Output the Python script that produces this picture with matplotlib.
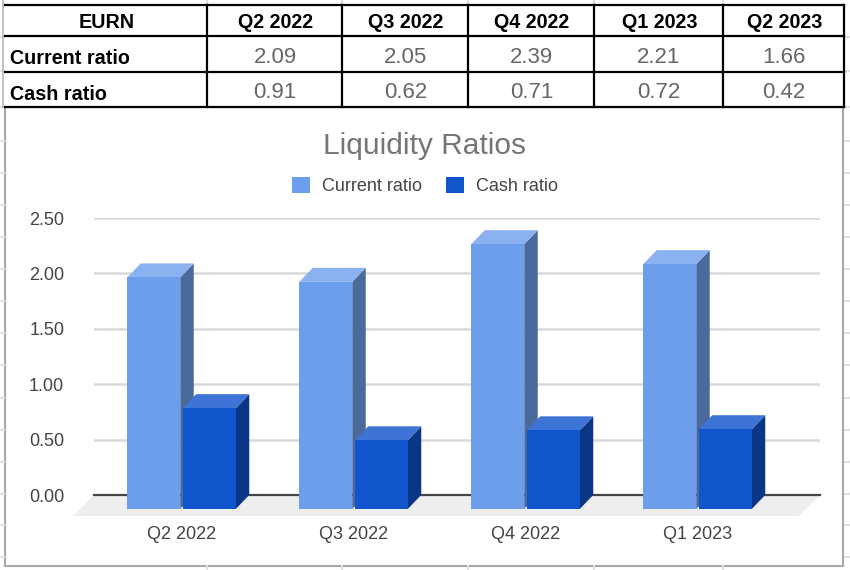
import matplotlib
matplotlib.use("Agg")
from matplotlib import pyplot as plt
from matplotlib.patches import Polygon, Patch, Rectangle

plt.rcParams['font.family'] = ['Liberation Sans', 'DejaVu Sans']

# table data
table_columns = ["EURN", "Q2 2022", "Q3 2022", "Q4 2022", "Q1 2023", "Q2 2023"]
row_names = ["Current ratio", "Cash ratio"]
current_row = ["2.09", "2.05", "2.39", "2.21", "1.66"]
cash_row = ["0.91", "0.62", "0.71", "0.72", "0.42"]

# chart data
quarters = ["Q2 2022", "Q3 2022", "Q4 2022", "Q1 2023"]
current_ratio = [2.09, 2.05, 2.39, 2.21]
cash_ratio = [0.91, 0.62, 0.71, 0.72]
y_ticks = [0.0, 0.5, 1.0, 1.5, 2.0, 2.5]

W, H = 850, 570
fig = plt.figure(figsize=(W / 100, H / 100), dpi=100)

# page layer in pixels, for the sheet grid, the table and the chart frame
page = fig.add_axes([0, 0, 1, 1])
page.set_xlim(0, W)
page.set_ylim(H, 0)
page.axis("off")

col_x = [5, 207, 342, 468, 594, 723, 844]
row_y = [5, 36, 71.5, 106.5]
grid_c = "#e0e0e0"
for x in col_x[1:-1]:
    page.plot([x, x], [0, 5], color=grid_c, lw=1.5)
    page.plot([x, x], [566, H], color=grid_c, lw=1.5)
for y in [37, 71, 107, 141, 173, 205, 237, 269, 301, 333, 365, 398, 430, 462, 494, 525, 557]:
    page.plot([0, 4], [y, y], color=grid_c, lw=1.5)
    page.plot([845, W], [y, y], color=grid_c, lw=1.5)
page.plot([3.5, 3.5], [0, 107], color="#c4c4c4", lw=1.5)
page.add_patch(Rectangle((5, 107), 838, 459, fc="white", ec="#a8a8a8", lw=1.5))

for y in row_y:
    page.plot([col_x[0], col_x[-1]], [y, y], color="black", lw=1.6, solid_capstyle="projecting")
for x in col_x[1:]:
    page.plot([x, x], [row_y[0], row_y[-1]], color="black", lw=1.6)

for i, name in enumerate(table_columns):
    page.text((col_x[i] + col_x[i + 1]) / 2 + 1, 23, name, ha="center", va="center",
              fontsize=14.2, fontweight="bold", color="black")
for j, (name, row) in enumerate(zip(row_names, [current_row, cash_row])):
    yc = [57.5, 92.5][j]
    page.text(10, yc + 0.5 + j, name, ha="left", va="center", fontsize=14.2, fontweight="bold", color="black")
    for i, val in enumerate(row):
        page.text((col_x[i + 1] + col_x[i + 2]) / 2 + 0.5, yc, val, ha="center", va="center",
                  fontsize=16, color="#666666")

# chart axes: the back plane of the 3D box
left, right, top, base = 94, 820, 218, 495
ax = fig.add_axes([left / W, 1 - base / H, (right - left) / W, (base - top) / H])
ax.patch.set_alpha(0)
group_px = 172.0
first_px = 181.5
ax.set_xlim((left - first_px) / group_px, (right - first_px) / group_px)
ax.set_ylim(0, 2.5)
for s in ax.spines.values():
    s.set_visible(False)

px_y = 2.5 / (base - top)
px_x = 1 / group_px
depth_x = 13.5 * px_x
depth_y = 14 * px_y
bar_w = 53 * px_x
gap = 2.5 * px_x

ax.set_yticks(y_ticks, [f"{v:.2f}" for v in y_ticks])
ax.set_xticks(range(len(quarters)), quarters)
ax.tick_params(axis="both", length=0, labelsize=13, labelcolor="#444444")
ax.tick_params(axis="x", pad=22.5)
ax.tick_params(axis="y", pad=21.5)
ax.grid(axis="y", color="#d9d9d9", lw=1.8, zorder=0)
ax.set_axisbelow(True)

xmin, xmax = ax.get_xlim()
floor_x = 21 * px_x
floor_y = 21 * px_y
ax.add_patch(Polygon([(xmin, 0), (xmax, 0), (xmax - floor_x, -floor_y), (xmin - floor_x, -floor_y)],
                     fc="#eeeeee", ec="none", clip_on=False, zorder=1))
ax.plot([xmin, xmax], [0, 0], color="#444444", lw=1.6, zorder=2, clip_on=False)


def bars3d(xs, values, front, top_c, side, z):
    for x0, v in zip(xs, values):
        ytop = v - depth_y
        x1 = x0 + bar_w
        ax.add_patch(Polygon([(x1, -depth_y), (x1 + depth_x, 0), (x1 + depth_x, v), (x1, ytop)],
                             fc=side, ec="none", clip_on=False, zorder=z))
        ax.add_patch(Polygon([(x0, ytop), (x1, ytop), (x1 + depth_x, v), (x0 + depth_x, v)],
                             fc=top_c, ec="none", clip_on=False, zorder=z))
    ax.bar(xs, values, width=bar_w, bottom=-depth_y, align="edge", color=front,
           edgecolor="none", clip_on=False, zorder=z)


for i in range(len(quarters)):
    x_cur = i - bar_w - gap / 2
    x_cash = i + gap / 2
    bars3d([x_cur], [current_ratio[i]], "#6d9eeb", "#8ab1f0", "#4a6a9b", 3 + i * 2)
    bars3d([x_cash], [cash_ratio[i]], "#1155cc", "#3e74d6", "#0b3685", 4 + i * 2)

page.text(424.5, 146, "Liquidity Ratios", ha="center", va="center", fontsize=21.5, color="#757575")

handles = [Patch(fc="#6d9eeb", ec="none", label=row_names[0]),
           Patch(fc="#1155cc", ec="none", label=row_names[1])]
fig.legend(handles=handles, ncols=2, loc="center", bbox_to_anchor=(425 / W, 1 - 186 / H), frameon=False,
           fontsize=13, handlelength=1.0, handleheight=1.0, handletextpad=0.68,
           columnspacing=1.3, labelcolor="#444444", borderpad=0, borderaxespad=0)

fig.savefig("out.png", dpi=100)
